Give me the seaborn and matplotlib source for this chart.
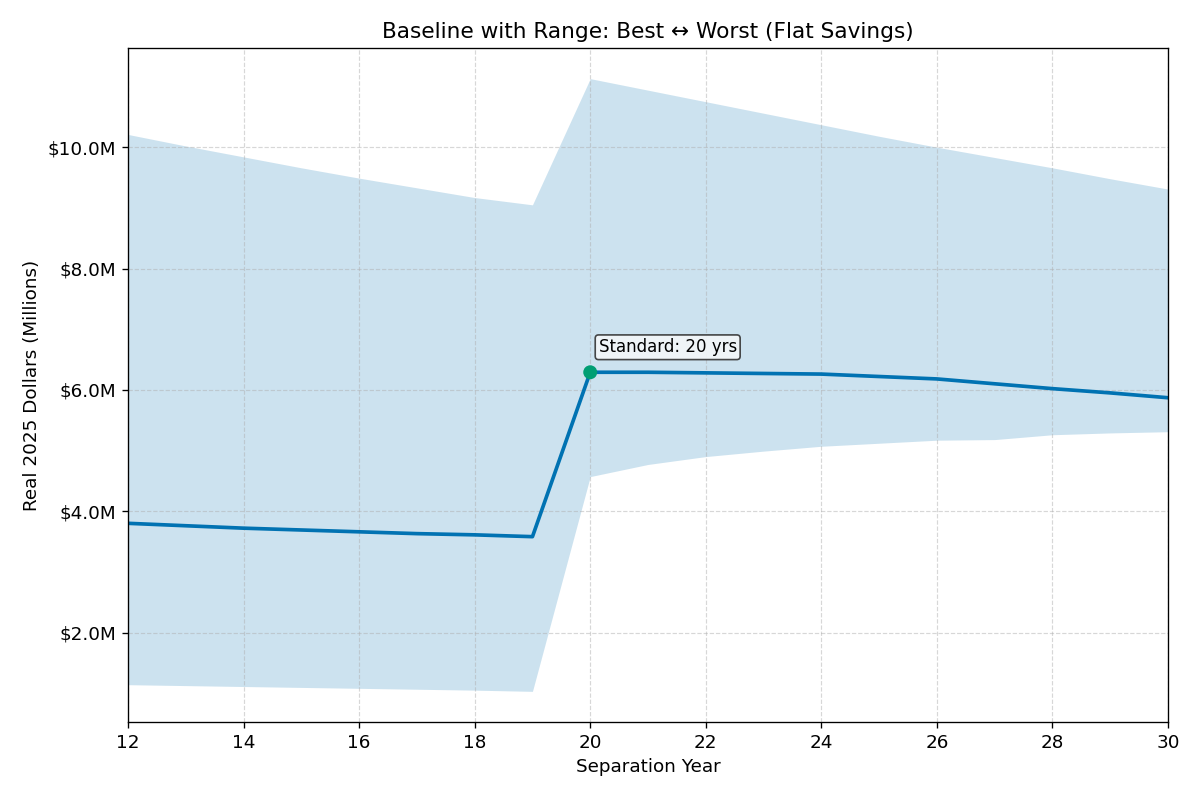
import numpy as np
import pandas as pd
import matplotlib
matplotlib.use('Agg')
import matplotlib.pyplot as plt
from matplotlib.ticker import FuncFormatter
import seaborn as sns

# -----------------------------
# Values (millions, real 2025 dollars)
# -----------------------------
years = [12, 13, 14, 15, 16, 17, 18, 19, 20, 21, 22, 23, 24, 25, 26, 27, 28, 29, 30]
baseline = [3.80, 3.76, 3.72, 3.69, 3.66, 3.63, 3.61, 3.58,
            6.29, 6.29, 6.28, 6.27, 6.26, 6.22, 6.18, 6.10, 6.02, 5.95, 5.87]
best_case = [10.21, 10.02, 9.84, 9.66, 9.49, 9.33, 9.17, 9.05,
             11.13, 10.94, 10.75, 10.56, 10.37, 10.18, 10.00, 9.83, 9.66, 9.48, 9.31]
worst_case = [1.14, 1.125, 1.11, 1.095, 1.08, 1.065, 1.05, 1.03,
              4.57, 4.77, 4.90, 4.99, 5.07, 5.12, 5.17, 5.18, 5.26, 5.29, 5.31]
standard_year = 20

df = pd.DataFrame({'year': years, 'baseline': baseline,
                   'best': best_case, 'worst': worst_case})

blue = '#0072B2'
green = '#009E73'

# -----------------------------
# Plot
# -----------------------------
fig, ax = plt.subplots(figsize=(10, 20 / 3), dpi=120)

ax.fill_between(df['year'], df['worst'], df['best'], color=blue, alpha=0.2, linewidth=0)
sns.lineplot(data=df, x='year', y='baseline', color=blue, linewidth=2.2, ax=ax)

std = df[df['year'] == standard_year]
sns.scatterplot(data=std, x='year', y='baseline', color=green, s=70,
                edgecolor='none', zorder=5, ax=ax)
ax.annotate(f'Standard: {standard_year} yrs',
            xy=(standard_year, std['baseline'].iloc[0]),
            xytext=(5, 12), textcoords='offset points', fontsize=10,
            bbox=dict(boxstyle='round,pad=0.2', facecolor='#f4f7f9',
                      edgecolor='#333333', alpha=0.9))

ax.set_xlim(min(years), max(years))
ax.yaxis.set_major_formatter(FuncFormatter(lambda v, p: f'${v:.1f}M'))
ax.grid(True, linestyle='--', color='#b0b0b0', alpha=0.5, linewidth=0.7)
ax.tick_params(labelsize=11)
ax.set_xlabel('Separation Year', fontsize=11)
ax.set_ylabel('Real 2025 Dollars (Millions)', fontsize=11)
ax.set_title('Baseline with Range: Best \u2194 Worst (Flat Savings)', fontsize=13)

plt.subplots_adjust(left=0.1067, right=0.9733, top=0.94, bottom=0.0975)
plt.savefig('out.png', dpi=120)
